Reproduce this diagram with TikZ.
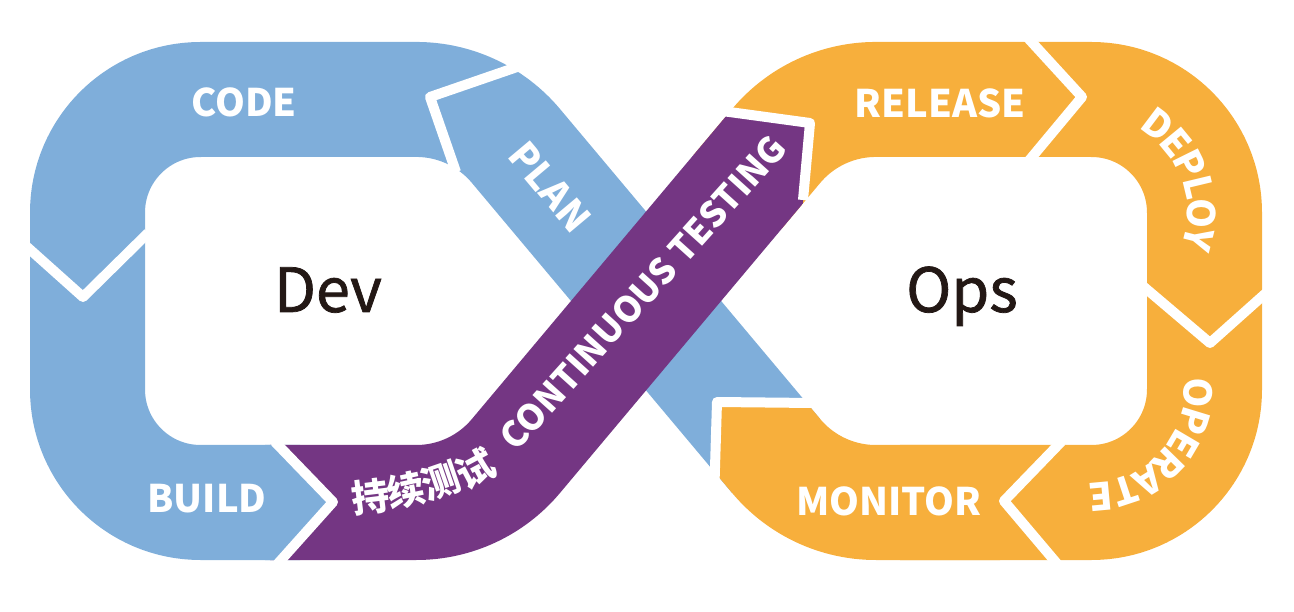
\documentclass[tikz,border=0pt]{standalone}
\usepackage{fontspec}
\setmainfont{Noto Sans CJK SC}
\newfontfamily\devfont[FakeBold=1.2]{Noto Sans CJK SC}
\usetikzlibrary{decorations.text}
\definecolor{cblue}{RGB}{127,174,218}
\definecolor{cpurple}{RGB}{116,54,131}
\definecolor{corange}{RGB}{247,175,60}
\definecolor{cdark}{RGB}{35,24,21}
\newcommand\labf{\bfseries\fontsize{38}{40}\selectfont}
\newcommand\labs{\bfseries\fontsize{35.5}{38}\selectfont}
\newcommand\bigf{\devfont\fontsize{61}{66}\selectfont}
\begin{document}
\begin{tikzpicture}[x=1pt,y=1pt,
  band/.style={line width=115pt, line cap=butt, line join=round},
  sep/.style={white, line width=10pt, line join=round, line cap=butt},
  lab/.style={text=white, font=\labf, inner sep=0pt},
  labsm/.style={text=white, font=\labs, inner sep=0pt},
  big/.style={text=cdark, font=\bigf, inner sep=0pt, anchor=base}]
\useasboundingbox (0,0) rectangle (1294,611);
% blue loop (PLAN, CODE, BUILD)
\draw[band, cblue] (776.2,154.9) -- (515.9,465.1)
  arc[start angle=40, end angle=90, radius=130] -- (200.5,511.5)
  arc[start angle=90, end angle=180, radius=113] -- (87.5,221.5)
  arc[start angle=180, end angle=270, radius=113] -- (300,108.5);
% orange loop (RELEASE, DEPLOY, OPERATE)
\draw[band, corange] (737.6,419.1) -- (776.2,465.1)
  arc[start angle=140, end angle=90, radius=130] -- (1091.5,511.5)
  arc[start angle=90, end angle=0, radius=113] -- (1204.5,221.5)
  arc[start angle=0, end angle=-90, radius=113] -- (900,108.5);
% orange MONITOR end over blue tail
\begin{scope}
  \clip (717,209) -- (715,-30) -- (1010,-30) -- (1010,206) -- cycle;
  \draw[band, corange] (1000,108.5) -- (875.8,108.5)
    arc[start angle=270, end angle=220, radius=130] -- (700,246);
\end{scope}
% purple continuous testing
\begin{scope}
  \clip (0,-10) -- (0,505) -- (690,505) -- (810,488) -- (801,388) -- (801,-10) -- cycle;
  \draw[band, cpurple] (270,108.5) -- (416.3,108.5)
    arc[start angle=270, end angle=320, radius=130] -- (776.2,465.1) -- (815,511.3);
\end{scope}
% BUILD arrow tip over purple start
\fill[cblue] (265,166) -- (278,166) -- (333,109) -- (281,51) -- (265,51) -- cycle;
% white separators
\draw[sep] (26,365) -- (83,314) -- (148,378);
\draw[sep] (520,545) -- (430,514) -- (456,439);
\draw[sep] (274.5,169.6) -- (333,109) -- (277.5,47);
\draw[sep] (813,208) -- (717,209) -- (714.5,127);
\draw[sep] (722,500) -- (810,488) -- (803,411);
\draw[sep] (1027,574) -- (1082,514) -- (1027,448);
\draw[sep] (1144,324) -- (1210,268) -- (1266,318);
\draw[sep] (1061.5,169.5) -- (1004,110) -- (1059,45);
% labels
\node[lab] (code) at (244,508.5) {CODE};
\node[lab, rotate=-50] (plan) at (550,424) {PLAN};
\node[lab] (build) at (207,112.5) {BUILD};
\node[lab] (release) at (940,508) {RELEASE};
\node[lab] (monitor) at (889,109.5) {MONITOR};
\node[big] (dev) at (328,299) {Dev};
\node[big] (ops) at (962,299) {Ops};
\path[decorate, decoration={text along path, text={|\labf\color{white}|DEPLOY}, text align=center, raise=-13pt}]
  (1110.4,505.85) arc[start angle=80, end angle=-40, radius=109];
\path[decorate, decoration={text along path, text={|\labf\color{white}|OPERATE}, text align=center, raise=-13pt}]
  (1193.9,248.9) arc[start angle=15, end angle=-100, radius=106];
% continuous testing label
\node[lab, rotate=7] (zh1) at (371,114) {持};
\node[lab, rotate=12] (zh2) at (406,121) {续};
\node[lab, rotate=19] (zh3) at (441,130.5) {测};
\node[lab, rotate=28] (zh4) at (475.5,142) {试};
\node[labsm, rotate=48] (ct) at (643,318.5) {CONTINUOUS TESTING};
\end{tikzpicture}
\end{document}
